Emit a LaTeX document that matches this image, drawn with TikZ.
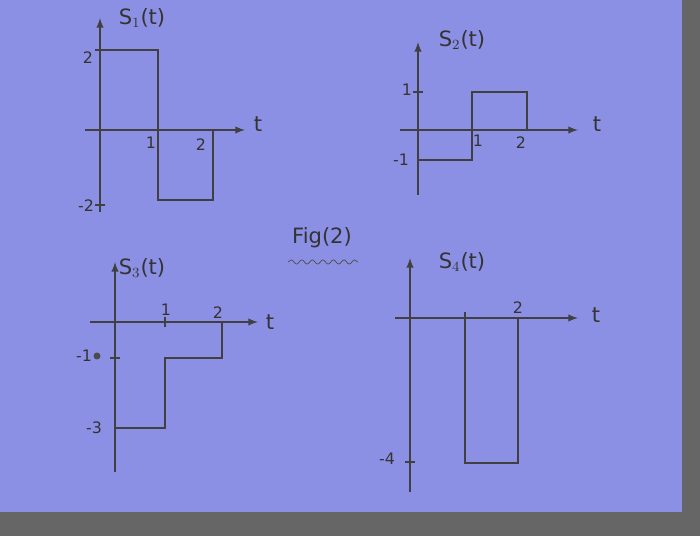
\documentclass[tikz,border=0pt]{standalone}
\usepackage{fontspec}
\setmainfont{DejaVu Sans}
\usetikzlibrary{decorations.pathmorphing}
\begin{document}
\begin{tikzpicture}[x=0.02cm,y=-0.02cm,
  ln/.style={draw=black!75,line width=0.9pt},
  ax/.style={draw=black!75,line width=0.9pt,-latex},
  lb/.style={text=black!80,font=\large,inner sep=1pt},
  sm/.style={text=black!80,font=\small,inner sep=1pt}]
\useasboundingbox (0,0) rectangle (700,536);
\fill[black!60] (0,0) rectangle (700,536);
\fill[color={rgb,255:red,140;green,144;blue,228}] (0,0) rectangle (682,512);
% plot 1
\coordinate (a1t) at (100,18); \coordinate (a1b) at (100,212);
\coordinate (h1l) at (85,130); \coordinate (h1r) at (245,130);
\draw[ax] (a1b) -- (a1t); \draw[ax] (h1l) -- (h1r);
\draw[ln] (100,50) -- (158,50) -- (158,200) -- (213,200) -- (213,130);
\draw[ln] (95,205) -- (105,205); \draw[ln] (95,50) -- (105,50);
\node[sm] (l1a) at (88,58) {2}; \node[sm] (l1b) at (86,206) {-2};
\node[sm] (l1c) at (151,143) {1}; \node[sm] (l1d) at (201,145) {2};
\node[lb] (l1t) at (258,124) {t}; \node[lb] (l1s) at (142,18) {S$_1$(t)};
% plot 2
\coordinate (a2t) at (418,42); \coordinate (a2b) at (418,195);
\draw[ax] (a2b) -- (a2t); \draw[ax] (400,130) -- (578,130);
\draw[ln] (418,160) -- (472,160) -- (472,92) -- (527,92) -- (527,130);
\draw[ln] (413,92) -- (423,92);
\node[sm] (l2a) at (407,90) {1}; \node[sm] (l2b) at (401,160) {-1};
\node[sm] (l2c) at (478,141) {1}; \node[sm] (l2d) at (521,143) {2};
\node[lb] (l2t) at (597,124) {t}; \node[lb] (l2s) at (462,40) {S$_2$(t)};
% plot 3
\draw[ax] (115,472) -- (115,262); \draw[ax] (90,322) -- (258,322);
\draw[ln] (115,428) -- (165,428) -- (165,358) -- (222,358) -- (222,322);
\draw[ln] (110,358) -- (120,358); \draw[ln] (165,317) -- (165,327);
\node[sm] (l3a) at (84,356) {-1}; \fill[black!70] (97,356) circle (3.5);
\node[sm] (l3b) at (94,428) {-3};
\node[sm] (l3c) at (166,310) {1}; \node[sm] (l3d) at (218,313) {2};
\node[lb] (l3t) at (270,322) {t}; \node[lb] (l3s) at (142,268) {S$_3$(t)};
% plot 4
\draw[ax] (410,492) -- (410,258); \draw[ax] (395,318) -- (578,318);
\draw[ln] (465,318) -- (465,463) -- (518,463) -- (518,318);
\draw[ln] (405,462) -- (415,462); \draw[ln] (465,312) -- (465,318);
\node[sm] (l4a) at (387,459) {-4}; \node[sm] (l4d) at (518,308) {2};
\node[lb] (l4t) at (596,315) {t}; \node[lb] (l4s) at (462,262) {S$_4$(t)};
% caption
\node[lb] (fig) at (322,238) {Fig(2)};
\draw[black!70,decorate,decoration={snake,amplitude=1.2pt,segment length=6pt}] (288,262) -- (358,262);
\end{tikzpicture}
\end{document}
